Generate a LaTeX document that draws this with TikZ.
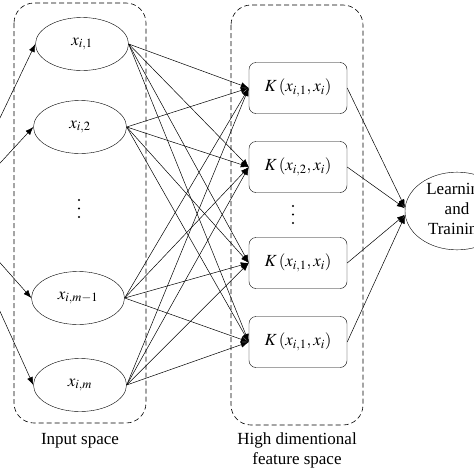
\documentclass[tikz,border=0pt]{standalone}
\usepackage{mathptmx}
\usepackage{fontspec}
\setmainfont{Liberation Serif}
\usetikzlibrary{positioning}
\usetikzlibrary{arrows.meta}
\usetikzlibrary{shapes}

\begin{document}
\begin{tikzpicture}[x=1pt, y=-1pt, font=\fontsize{17}{20}\selectfont,
  inp/.style={draw, ellipse, minimum width=93pt, minimum height=53pt, inner sep=0pt},
  ker/.style={draw, rectangle, rounded corners=7pt, minimum width=98pt, minimum height=51pt, inner sep=0pt},
  link/.style={-{Latex[length=8pt,width=6pt]}, line width=0.5pt},
  space/.style={draw, dash pattern=on 5pt off 3pt, rounded corners=20pt, line width=0.6pt}]
\clip (0,0) rectangle (474,474);
\coordinate (src) at (-45,212);
\node[inp] (X1) at (82,44) {$x_{i,1}$};
\node[inp] (X2) at (80,127) {$x_{i,2}$};
\node[inp] (XM1) at (78,298) {$x_{i,m-1}$};
\node[inp] (XM) at (80,385) {$x_{i,m}$};
\node[ker] (K1) at (298,88) {$K\left(x_{i,1},x_i\right)$};
\node[ker] (K2) at (298,167) {$K\left(x_{i,2},x_i\right)$};
\node[ker] (K3) at (298,263) {$K\left(x_{i,1},x_i\right)$};
\node[ker] (K4) at (298,342) {$K\left(x_{i,1},x_i\right)$};
\node[draw, ellipse, minimum width=104pt, minimum height=72pt, inner sep=0pt, align=center] (LT) at (457,211) {Learning\\and\\Training};
% vertical dots
\foreach \y in {200,208.5,217} {
  \fill (79,\y) circle (1.1pt);
  \fill (293,\y+6) circle (1.1pt);
}
\draw[space] (14,3) rectangle (146,423);
\draw[space] (231,5) rectangle (363,425);
\node (IS) at (80,441) {Input space};
\node[align=center] (FS) at (297,450) {High dimentional\\feature space};
% inputs
\foreach \x in {X1,X2,XM1,XM}
  \draw[link] (src) -- (\x.west);
% full connection
\foreach \x in {X1,X2,XM1,XM}
  \foreach \k in {K1,K2,K3,K4}
    \draw[link] (\x.east) -- (\k.west);
\draw[link] (K1.east) -- (LT.176);
\draw[link] (K2.east) -- (LT.177);
\draw[link] (K3.east) -- (LT.184);
\draw[link] (K4.east) -- (LT.185);
\end{tikzpicture}
\end{document}
